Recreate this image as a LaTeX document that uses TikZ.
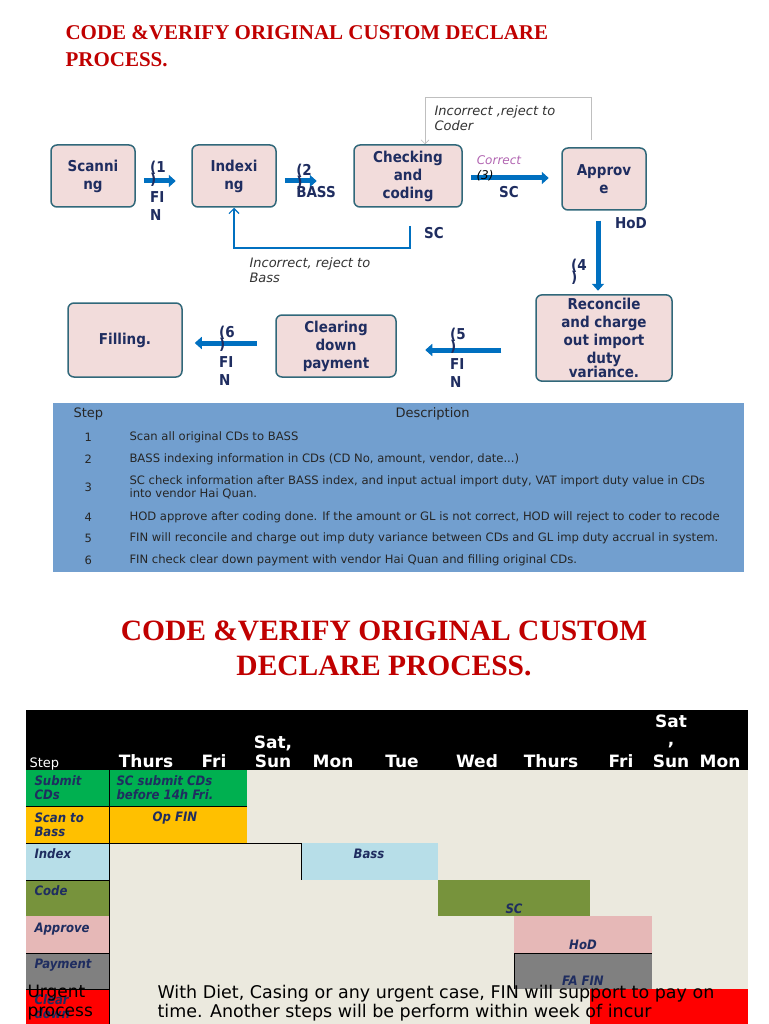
\documentclass[tikz,border=0pt]{standalone}
\usepackage{fontspec}
\setmainfont{DejaVu Sans}
\newfontfamily\ttl{Liberation Serif}
\newfontfamily\cond{DejaVu Sans Condensed}
\usetikzlibrary{arrows.meta}
\definecolor{boxfill}{RGB}{242,220,219}
\definecolor{boxline}{RGB}{49,104,122}
\definecolor{arr}{RGB}{0,112,192}
\definecolor{tbl}{RGB}{114,159,207}
\definecolor{titred}{RGB}{192,0,0}
\definecolor{gbg}{RGB}{235,233,222}
\definecolor{ggreen}{RGB}{0,176,80}
\definecolor{gyellow}{RGB}{255,192,0}
\definecolor{gblue}{RGB}{183,222,232}
\definecolor{golive}{RGB}{119,147,60}
\definecolor{gpink}{RGB}{230,184,183}
\definecolor{ggray}{RGB}{128,128,128}
\definecolor{navy}{RGB}{31,45,96}
\tikzset{
 proc/.style={draw=boxline,line width=1.5pt,fill=boxfill,rounded corners=6pt,align=center,font=\cond\bfseries\fontsize{15}{18}\selectfont,text=navy,minimum height=62pt},
 fat/.style={arr,line width=5pt,-{Triangle[length=7pt,width=12pt]}},
 lbl/.style={font=\cond\bfseries\fontsize{15}{18}\selectfont,text=navy,align=left},
 note/.style={font=\itshape\fontsize{13}{15}\selectfont,text=black!80,align=left},
 tt/.style={font=\fontsize{11.5}{13}\selectfont,text=black!85,anchor=west,align=left},
 gl/.style={font=\cond\bfseries\itshape\fontsize{13}{14}\selectfont,text=navy,align=left},
 hd/.style={font=\bfseries\fontsize{17}{19}\selectfont,text=white}
}
\begin{document}
\begin{tikzpicture}[x=1pt,y=-1pt]
\useasboundingbox (0,0) rectangle (768,1024);
\fill[white] (0,0) rectangle (768,1024);
\node[anchor=north west,font=\ttl\bfseries\fontsize{21}{27}\selectfont,text=titred,align=left] (t1) at (62,22) {CODE \&VERIFY ORIGINAL CUSTOM DECLARE\\PROCESS.};
% flow
\node[proc,minimum width=84pt] (scan) at (93,176) {Scanni\\ng};
\node[proc,minimum width=84pt] (idx) at (234,176) {Indexi\\ng};
\node[proc,minimum width=108pt] (chk) at (408,176) {Checking\\and\\coding};
\node[proc,minimum width=84pt] (app) at (604,179) {Approv\\e};
\node[proc,minimum width=136pt,minimum height=76pt] (rec) at (604,338) {Reconcile\\and charge\\out import\\duty\\[-4pt]variance.};
\node[proc,minimum width=120pt] (clr) at (336,346) {Clearing\\down\\payment};
\node[proc,minimum width=114pt,minimum height=74pt] (fil) at (125,340) {Filling.};
\draw[fat] (scan.east)++(8,5) -- ++(32,0) coordinate (e1);
\draw[fat] (idx.east)++(8,5) -- ++(32,0) coordinate (e2);
\draw[fat] (chk.east)++(8,2) -- ++(78,0) coordinate (e3);
\draw[fat] (app.south)++(-6,10) -- ++(0,70) coordinate (e4);
\draw[fat] (rec.west)++(-34,12) -- ++(-76,0) coordinate (e5);
\draw[fat] (fil.east)++(74,3) -- ++(-62,0) coordinate (e6);
\node[lbl] (l1) at (158,191) {(1\\[-6pt])\\FI\\N};
\node[lbl] (l2) at (316,181) {(2\\[-6pt])\\[-8pt]BASS};
\node[lbl] (l3) at (509,192) {SC};
\node[font=\itshape\fontsize{12}{14}\selectfont,text=violet!60] (cor) at (499,160) {Correct};
\node[font=\itshape\fontsize{12}{14}\selectfont] (c3) at (485,176) {(3)};
\node[lbl] (hod) at (631,223) {HoD};
\node[lbl] (l4) at (579,272) {(4\\[-6pt])};
\node[lbl] (l5) at (458,358) {(5\\[-6pt])\\FI\\N};
\node[lbl] (l6) at (227,356) {(6\\[-6pt])\\FI\\N};
\node[lbl] (sc2) at (434,233) {SC};
\coordinate (b1) at (410,226);
\coordinate (b2) at (410,248);
\coordinate (b3) at (234,248);
\draw[arr,line width=1.2pt,-{Straight Barb[length=5pt]}] (b1) -- (b2) -- (b3) -- (idx.south);
\node[note,anchor=north west] (n1) at (246,254) {Incorrect, reject to\\Bass};
\coordinate (c1) at (591,140);
\coordinate (c2) at (591,97);
\coordinate (c3b) at (425,97);
\draw[black!25,line width=0.6pt,-{Straight Barb[length=4pt]}] (c1) -- (c2) -- (c3b) -- (chk.north -| c3b);
\node[note,anchor=north west] (n2) at (431,102) {Incorrect ,reject to\\Coder};
% table
\fill[tbl] (53,403) rectangle (744,572);
\node[tt,font=\fontsize{13}{15}\selectfont] (th1) at (70,414) {Step};
\node[tt,font=\fontsize{13}{15}\selectfont] (th2) at (392,414) {Description};
\foreach \n/\y/\t in {1/437/Scan all original CDs to BASS,
 2/459/{BASS indexing information in CDs (CD No, amount, vendor, date...)},
 3/487/{SC check information after BASS index, and input actual import duty, VAT import duty value in CDs\\into vendor Hai Quan.},
 4/517/{HOD approve after coding done. If the amount or GL is not correct, HOD will reject to coder to recode},
 5/538/{FIN will reconcile and charge out imp duty variance between CDs and GL imp duty accrual in system.},
 6/560/{FIN check clear down payment with vendor Hai Quan and filling  original CDs.}}{
 \node[tt] (r\n) at (81,\y) {\n};
 \node[tt,font=\fontsize{11.6}{13}\selectfont] (d\n) at (126,\y) {\t};
}
\node[font=\ttl\bfseries\fontsize{29.5}{35}\selectfont,text=titred,align=center] (t2) at (384,648) {CODE \&VERIFY ORIGINAL CUSTOM\\DECLARE PROCESS.};
% gantt
\fill[gbg] (26,770) rectangle (748,1024);
\fill[black] (26,710) rectangle (748,770);
\fill[ggreen] (26,770) rectangle (247,806);
\fill[gyellow] (26,806) rectangle (247,843);
\fill[gblue] (26,843) rectangle (109,880);
\fill[gblue] (301,843) rectangle (438,880);
\fill[golive] (26,880) rectangle (109,916);
\fill[golive] (438,880) rectangle (590,916);
\fill[gpink] (26,916) rectangle (109,953);
\fill[gpink] (514,916) rectangle (652,953);
\fill[ggray] (26,953) rectangle (109,989);
\fill[ggray] (514,953) rectangle (652,989);
\fill[red] (26,989) rectangle (109,1024);
\fill[red] (590,989) rectangle (748,1024);
\draw[line width=0.8pt] (109,770) -- (109,1024);
\draw[line width=0.8pt] (26,806) -- (247,806) (26,843) -- (301,843) -- (301,880) (26,880) -- (109,880) (26,953) -- (109,953) (514,953) -- (652,953) (514,953) -- (514,989) (26,989) -- (109,989);
\node[font=\fontsize{13}{14}\selectfont,text=white,anchor=base west] (hs) at (26,767) {Step};
\foreach \x/\t [count=\i] in {146/Thurs,214/Fri,273/Sun,333/Mon,402/Tue,477/Wed,551/Thurs,621/Fri,671/Sun,720/Mon}{
 \node[hd,anchor=base] (h\i) at (\x,767) {\t};}
\node[hd,anchor=base] (hsat1) at (273,748) {Sat,};
\node[hd,anchor=base] (hsat2) at (671,727) {Sat};
\node[hd,anchor=base] (hsat3) at (671,745) {,};
\node[gl,anchor=north west] (g1) at (31,772) {Submit\\CDs};
\node[gl,anchor=north west] (g2) at (113,772) {SC submit CDs\\before 14h Fri.};
\node[gl,anchor=north west] (g3) at (31,809) {Scan to\\Bass};
\node[gl] (g4) at (175,818) {Op FIN};
\node[gl,anchor=north west] (g5) at (31,845) {Index};
\node[gl] (g6) at (369,854) {Bass};
\node[gl,anchor=north west] (g7) at (31,882) {Code};
\node[gl] (g8) at (514,909) {SC};
\node[gl,anchor=north west] (g9) at (31,919) {Approve};
\node[gl] (g10) at (583,945) {HoD};
\node[gl,anchor=north west] (g11) at (31,955) {Payment};
\node[gl] (g12) at (583,981) {FA FIN};
\node[gl,anchor=north west] (g13) at (31,991) {Clear\\down};
\node[font=\fontsize{17}{19}\selectfont,align=left,anchor=north west] (u1) at (24,982) {Urgent\\process};
\node[font=\fontsize{17.5}{19}\selectfont,align=left,anchor=north west] (u2) at (154,982) {With Diet, Casing or any urgent case, FIN will support to pay on\\time. Another steps will be perform within week of incur};
\end{tikzpicture}
\end{document}
